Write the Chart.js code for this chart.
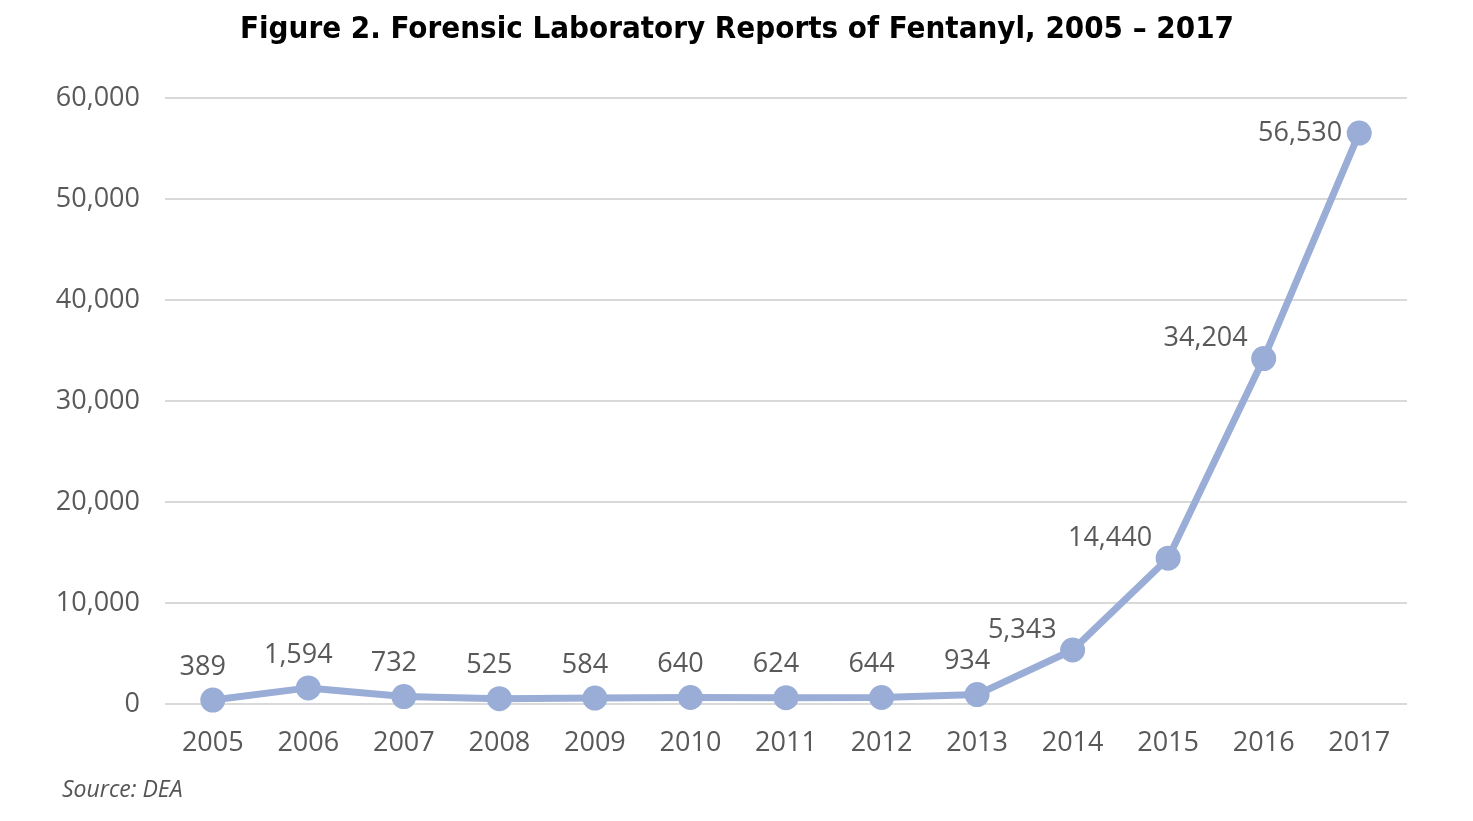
<!DOCTYPE html>
<html>
<head>
<meta charset="utf-8">
<script src="https://cdn.jsdelivr.net/npm/chart.js@4.4.1/dist/chart.umd.min.js"></script>
<style>
  html, body { margin: 0; padding: 0; background: #ffffff; }
  #wrap { position: relative; width: 1473px; height: 821px; }
</style>
</head>
<body>
<div id="wrap"><canvas id="c" width="1473" height="821"></canvas></div>
<script>
const titleText = 'Figure 2. Forensic Laboratory Reports of Fentanyl, 2005 \u2013 2017';
const sourceText = 'Source: DEA';
const years = ['2005','2006','2007','2008','2009','2010','2011','2012','2013','2014','2015','2016','2017'];
const reports = [389, 1594, 732, 525, 584, 640, 624, 644, 934, 5343, 14440, 34204, 56530];
const labelPlacement = ['above','above','above','above','above','above','above','above','above','upperLeft','upperLeft','upperLeft','left'];
const yTicks = [0, 10000, 20000, 30000, 40000, 50000, 60000];

const lineColor = '#9aadd6';
const textColor = '#595959';
const tickFont = { family: '"Open Sans", "Noto Sans", sans-serif', size: 27 };

const fmt = v => v.toLocaleString('en-US');

const labelsPlugin = {
  id: 'pointLabels',
  afterDatasetsDraw(chart) {
    const ctx = chart.ctx;
    const meta = chart.getDatasetMeta(0);
    ctx.save();
    ctx.font = '27px "Open Sans", "Noto Sans", sans-serif';
    ctx.fillStyle = textColor;
    ctx.textBaseline = 'middle';
    meta.data.forEach((pt, i) => {
      const txt = fmt(reports[i]);
      const p = labelPlacement[i];
      if (p === 'above') {
        ctx.textAlign = 'center';
        ctx.fillText(txt, pt.x - 10, pt.y - 33);
      } else if (p === 'upperLeft') {
        ctx.textAlign = 'right';
        ctx.fillText(txt, pt.x - 16, pt.y - 20);
      } else {
        ctx.textAlign = 'right';
        ctx.fillText(txt, pt.x - 17, pt.y);
      }
    });
    ctx.restore();
  }
};

const textPlugin = {
  id: 'titleSource',
  afterDraw(chart) {
    const ctx = chart.ctx;
    ctx.save();
    ctx.fillStyle = '#000000';
    ctx.textAlign = 'center';
    ctx.textBaseline = 'middle';
    ctx.font = 'bold 31px "Liberation Sans Narrow", "DejaVu Sans Condensed", "Roboto Condensed", sans-serif';
    ctx.fillText(titleText, 737, 30);
    ctx.fillStyle = '#555555';
    ctx.textAlign = 'left';
    ctx.font = 'italic 23px "Open Sans", "Noto Sans", sans-serif';
    ctx.fillText(sourceText, 62, 790);
    ctx.restore();
  }
};

new Chart(document.getElementById('c'), {
  type: 'line',
  data: {
    labels: years,
    datasets: [{
      data: reports,
      borderColor: lineColor,
      backgroundColor: lineColor,
      borderWidth: 7,
      pointRadius: 9,
      pointHoverRadius: 9,
      pointBackgroundColor: lineColor,
      pointBorderColor: lineColor,
      tension: 0,
      clip: false
    }]
  },
  options: {
    responsive: false,
    animation: false,
    devicePixelRatio: 1,
    layout: { padding: { top: 98, right: 66, bottom: 57, left: 0 } },
    plugins: { legend: { display: false }, tooltip: { enabled: false }, title: { display: false } },
    scales: {
      x: {
        offset: true,
        grid: { display: false, drawTicks: false },
        border: { display: false },
        ticks: { color: textColor, font: tickFont, padding: 23, maxRotation: 0 },
        afterFit(scale) { scale.height = 60; }
      },
      y: {
        min: 0, max: 60000,
        afterBuildTicks(scale) { scale.ticks = yTicks.map(v => ({ value: v })); },
        grid: { color: '#d9d9d9', lineWidth: 2, drawTicks: false },
        border: { display: false },
        ticks: { color: textColor, font: tickFont, padding: 25, callback: v => fmt(v) },
        afterFit(scale) { scale.width = 165; }
      }
    }
  },
  plugins: [labelsPlugin, textPlugin]
});
</script>
</body>
</html>
